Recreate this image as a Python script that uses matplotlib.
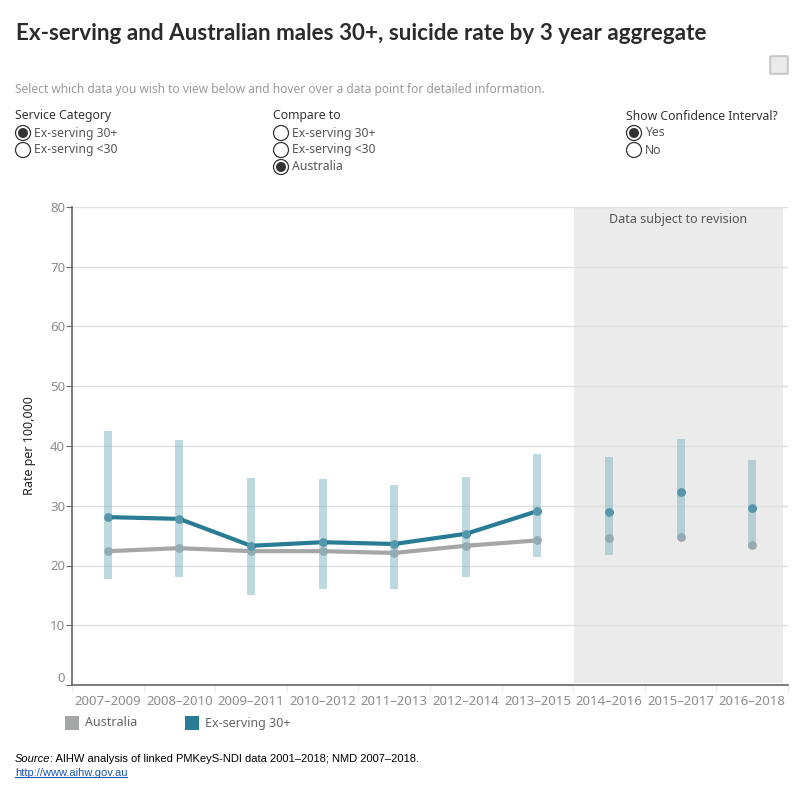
import numpy as np
import matplotlib.pyplot as plt
from matplotlib.patches import Circle, FancyBboxPatch

# --- datos ---
periods = ["2007–2009", "2008–2010", "2009–2011", "2010–2012", "2011–2013",
           "2012–2014", "2013–2015", "2014–2016", "2015–2017", "2016–2018"]
ex_serving = [28.1, 27.8, 23.3, 23.9, 23.6, 25.3, 29.1, 29.0, 32.3, 29.6]
australia = [22.4, 22.9, 22.4, 22.4, 22.1, 23.3, 24.2, 24.6, 24.8, 23.4]
ci_low = [17.8, 18.1, 15.1, 16.0, 16.1, 18.0, 21.5, 21.8, 24.5, 22.9]
ci_high = [42.5, 41.0, 34.7, 34.5, 33.5, 34.8, 38.7, 38.2, 41.2, 37.7]
n_final = 7  # años no sujetos a revisión
y_ticks = [0, 10, 20, 30, 40, 50, 60, 70, 80]

teal = "#297c93"
grey = "#a5a6a7"
ci_col = "#7fb3c2"
tick_col = "#8c8c8c"

fig = plt.figure(figsize=(8, 8), dpi=100)
W, H = 800, 800

def px(x, y):
    return x / W, 1 - y / H

# --- cabecera ---
fig.text(*px(16, 34), "Ex-serving and Australian males 30+, suicide rate by 3 year aggregate",
         fontsize=16.2, fontweight="bold", family="Lato", color="#2b2b2b", va="center")
fig.text(*px(15, 89), "Select which data you wish to view below and hover over a data point for detailed information.",
         fontsize=8.6, family="Noto Sans", color="#9a9a9a", va="center")

box = FancyBboxPatch(px(771, 73), 16 / W, 16 / H, boxstyle="round,pad=0.001",
                     transform=fig.transFigure, facecolor="#ebebeb", edgecolor="#c8c8c8", lw=1.5)
fig.patches.append(box)

groups = [
    (15, "Service Category", ["Ex-serving 30+", "Ex-serving <30"], 0),
    (273, "Compare to", ["Ex-serving 30+", "Ex-serving <30", "Australia"], 2),
    (626, "Show Confidence Interval?", ["Yes", "No"], 0),
]
for gx, head, opts, sel in groups:
    fig.text(*px(gx, 116), head, fontsize=8.8, family="Noto Sans", color="#333333", va="center")
    for i, opt in enumerate(opts):
        cy = 133 + i * 17
        fig.patches.append(Circle(px(gx + 8, cy), 7.5 / W, transform=fig.transFigure,
                                  facecolor="white", edgecolor="#333333", lw=0.9))
        if i == sel:
            fig.patches.append(Circle(px(gx + 8, cy), 5 / W, transform=fig.transFigure,
                                      facecolor="#333333", edgecolor="none"))
        fig.text(*px(gx + 19, cy), opt, fontsize=8.8, family="Noto Sans", color="#555555", va="center")

# --- gráfico ---
ax = fig.add_axes([72 / W, 1 - 685 / H, 716 / W, 478 / H])
x = np.arange(len(periods))
ax.set_xlim(-0.5, len(periods) - 0.5)
ax.set_ylim(0, 80)

ax.axvspan(n_final - 0.49, len(periods) - 0.57, ymin=0.005, color="#ebebeb", zorder=0, lw=0)
ax.text((n_final - 0.49 + len(periods) - 0.57) / 2, 77.9, "Data subject to revision",
        ha="center", va="center", fontsize=9, family="Noto Sans", color="#555555")

for t in y_ticks[1:]:
    ax.axhline(t, color="#e0e0e0", lw=1, zorder=1)

ax.plot(x[:n_final], australia[:n_final], color=grey, lw=3, zorder=2, solid_capstyle="round")
ax.scatter(x, australia, color=grey, s=40, zorder=3, lw=0)
ax.plot(x[:n_final], ex_serving[:n_final], color=teal, lw=3, zorder=2, solid_capstyle="round")
ax.scatter(x, ex_serving, color=teal, s=40, zorder=3, lw=0)

# intervalos de confianza
ax.bar(x, np.array(ci_high) - np.array(ci_low), bottom=ci_low, width=0.11,
       color=ci_col, alpha=0.5, zorder=4, lw=0)

for s in ["top", "right"]:
    ax.spines[s].set_visible(False)
for s in ["left", "bottom"]:
    ax.spines[s].set_color("#666666")
    ax.spines[s].set_linewidth(1.2)

ax.set_yticks(y_ticks)
ax.set_yticklabels([str(t) for t in y_ticks], fontsize=9.5, family="Noto Sans", color=tick_col)
ax.tick_params(axis="y", length=4, color="#666666", pad=1)
ax.get_yticklabels()[0].set_va("bottom")

ax.set_xticks(x)
ax.set_xticklabels(periods, fontsize=9.5, family="Noto Sans", color=tick_col)
ax.tick_params(axis="x", length=0, pad=7)
ax.set_xticks(np.arange(len(periods) + 1) - 0.5, minor=True)
ax.tick_params(axis="x", which="minor", length=5, color="#e6e6e6", direction="out")

ax.set_ylabel("Rate per 100,000", fontsize=9, family="Noto Sans", color="#222222")
ax.yaxis.set_label_coords(-36 / 716, 0.5)

# --- leyenda ---
for lx, label, col in [(65, "Australia", grey), (185, "Ex-serving 30+", teal)]:
    fig.patches.append(plt.Rectangle(px(lx, 730), 14 / W, 14 / H, transform=fig.transFigure,
                                     facecolor=col, edgecolor="none"))
    fig.text(*px(lx + 20, 723), label, fontsize=9, family="Noto Sans", color="#666666", va="center")

# --- fuente ---
t1 = fig.text(*px(15, 759), "Source", fontsize=8, family="Liberation Sans", style="italic", va="center")
fig.canvas.draw()
bb = t1.get_window_extent()
fig.text(bb.x1 / W, 1 - 759 / H, ": AIHW analysis of linked PMKeyS-NDI data 2001–2018; NMD 2007–2018.",
         fontsize=8, family="Liberation Sans", va="center")
url = fig.text(*px(15, 773), "http://www.aihw.gov.au", fontsize=8, family="Liberation Sans",
               color="#1a55b0", va="center")
fig.canvas.draw()
ub = url.get_window_extent()
fig.add_artist(plt.Line2D([ub.x0 / W, ub.x1 / W], [(ub.y0 + 1) / H] * 2, color="#1a55b0", lw=0.8))

fig.savefig("out.png", dpi=100)
